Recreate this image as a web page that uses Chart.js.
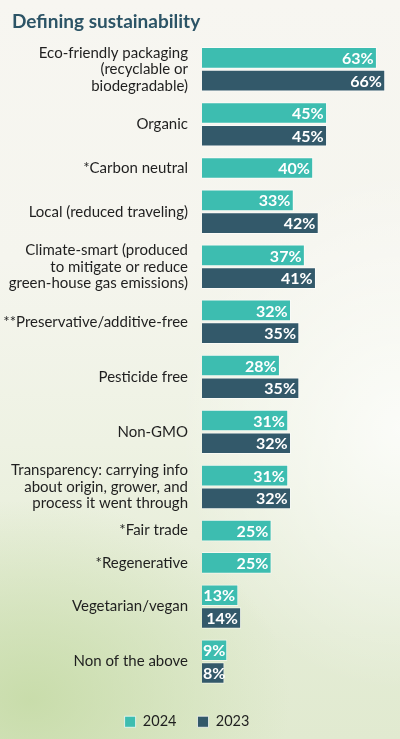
<!DOCTYPE html>
<html>
<head>
<meta charset="utf-8">
<script src="https://cdn.jsdelivr.net/npm/chart.js@4/dist/chart.umd.min.js"></script>
<style>
  html, body { margin:0; padding:0; width:400px; height:739px; overflow:hidden; }
  body {
    background:
      radial-gradient(ellipse 260px 200px at 30px 700px, rgba(196,218,164,0.85), rgba(196,218,164,0) 100%),
      radial-gradient(ellipse 220px 260px at 400px 430px, rgba(255,255,255,0.75), rgba(255,255,255,0) 100%),
      linear-gradient(to bottom, #f7f6f1 0%, #f5f5ee 35%, #eef2e3 60%, #e4ecd5 85%, #e1ead0 100%);
  }
  #wrap { position:absolute; left:0; top:0; width:400px; height:739px; }
</style>
</head>
<body>
<div id="wrap"><canvas id="c"></canvas></div>
<script>
// ---- data ----
const titleText = "Defining sustainability";
const categories = [
  ["Eco-friendly packaging", "(recyclable or", "biodegradable)"],
  ["Organic"],
  ["*Carbon neutral"],
  ["Local (reduced traveling)"],
  ["Climate-smart (produced", "to mitigate or reduce", "green-house gas emissions)"],
  ["**Preservative/additive-free"],
  ["Pesticide free"],
  ["Non-GMO"],
  ["Transparency: carrying info", "about origin, grower, and", "process it went through"],
  ["*Fair trade"],
  ["*Regenerative"],
  ["Vegetarian/vegan"],
  ["Non of the above"]
];
const values2024 = [63, 45, 40, 33, 37, 32, 28, 31, 31, 25, 25, 13, 9];
const values2023 = [66, 45, null, 42, 41, 35, 35, 32, 32, null, null, 14, 8];
const seriesNames = ["2024", "2023"];

// ---- row layout (bar slots inside a category are 1 unit apart) ----
const WITHIN = 1, BETWEEN = 1.42;
const pts2024 = [], pts2023 = [], catCenters = [];
let cursor = 0;
categories.forEach((c, i) => {
  const slots = [];
  if (values2024[i] != null) { pts2024.push({ y: cursor, x: values2024[i] }); slots.push(cursor); cursor += WITHIN; }
  if (values2023[i] != null) { pts2023.push({ y: cursor, x: values2023[i] }); slots.push(cursor); cursor += WITHIN; }
  catCenters.push((slots[0] + slots[slots.length - 1]) / 2);
  cursor = slots[slots.length - 1] + BETWEEN;
});

const C24 = "#3dbdb0", C23 = "#33596a";
const FONT = "Lato";

const valueLabels = {
  id: "valueLabels",
  afterLayout(chart) {
    if (chart.titleBlock) { chart.titleBlock.left = 12; }
    if (chart.legend) { chart.legend.left -= 11; chart.legend.right -= 11; }
  },
  afterDatasetsDraw(chart) {
    const ctx = chart.ctx;
    ctx.save();
    ctx.font = "bold 16px " + FONT;
    ctx.fillStyle = "#ffffff";
    ctx.textAlign = "right";
    ctx.textBaseline = "middle";
    chart.data.datasets.forEach((ds, di) => {
      const meta = chart.getDatasetMeta(di);
      meta.data.forEach((bar, j) => {
        const txt = ds.data[j].x + "%";
        const w = ctx.measureText(txt).width;
        const x = Math.max(bar.x - 3, bar.base + w + 1);
        ctx.fillText(txt, x, bar.y + 1);
      });
    });
    ctx.restore();
  }
};

new Chart(document.getElementById("c"), {
  type: "bar",
  data: {
    datasets: [
      { label: seriesNames[0], data: pts2024, backgroundColor: C24, borderColor: "rgba(255,255,255,0.55)", borderWidth: 1 },
      { label: seriesNames[1], data: pts2023, backgroundColor: C23, borderColor: "rgba(255,255,255,0.55)", borderWidth: 1 }
    ]
  },
  options: {
    indexAxis: "y",
    responsive: true,
    maintainAspectRatio: false,
    animation: false,
    grouped: false,
    barThickness: 21,
    layout: { padding: { left: 0, right: 4, top: 0, bottom: 0 } },
    scales: {
      x: { type: "linear", min: 0, max: 70, display: false },
      y: {
        type: "linear",
        reverse: true,
        offset: false,
        bounds: "data",
        min: -0.84,
        max: 27.94,
        grid: { display: false, drawTicks: false },
        border: { display: false },
        afterBuildTicks(scale) { scale.ticks = catCenters.map(v => ({ value: v })); },
        afterFit(scale) { scale.width = 202; scale.paddingTop = 0; scale.paddingBottom = 0; },
        ticks: {
          autoSkip: false,
          padding: 14,
          color: "#1f1f1f",
          font: { family: FONT, size: 15, lineHeight: 1.1 },
          callback: (v, i) => categories[i]
        }
      }
    },
    plugins: {
      title: {
        display: true, text: titleText, align: "start", color: "#2c5466",
        font: { family: FONT, size: 19, weight: "bold" },
        padding: { top: 10, bottom: 6 }
      },
      legend: {
        position: "bottom",
        labels: {
          boxWidth: 11, boxHeight: 11, padding: 21, color: "#1f1f1f",
          font: { family: FONT, size: 14.5 },
          generateLabels(chart) {
            return chart.data.datasets.map((d, i) => ({
              text: d.label, fillStyle: d.backgroundColor, strokeStyle: "rgba(255,255,255,0.7)",
              lineWidth: 1, datasetIndex: i, fontColor: "#1f1f1f"
            }));
          }
        }
      },
      tooltip: { enabled: false }
    }
  },
  plugins: [valueLabels]
});
</script>
</body>
</html>
